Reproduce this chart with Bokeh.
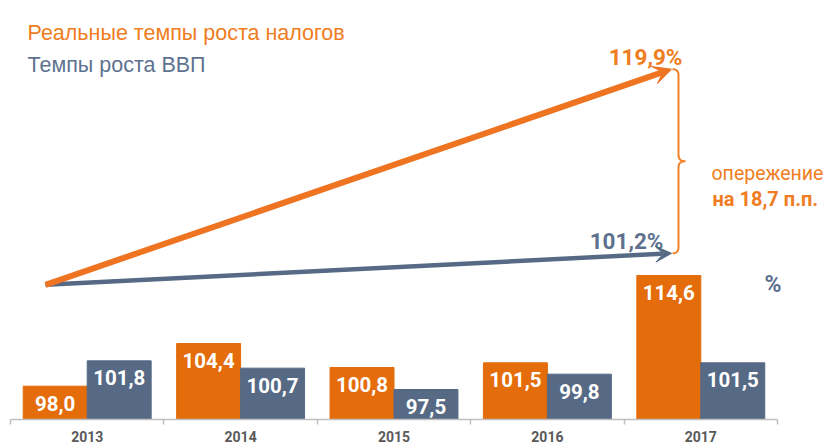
from bokeh.plotting import figure
from bokeh.models import (Range1d, FixedTicker, Arrow, VeeHead, Label,
                          ColumnDataSource)
from bokeh.transform import dodge
from bokeh.core.properties import value
from bokeh.embed import file_html
from bokeh.resources import INLINE

# ---- data ---------------------------------------------------------------
years = [2013, 2014, 2015, 2016, 2017]
tax_growth = [98.0, 104.4, 100.8, 101.5, 114.6]   # real tax revenue growth, %
gdp_growth = [101.8, 100.7, 97.5, 99.8, 101.5]    # GDP growth, %
tax_cumulative = 119.9                            # 2013-2017 cumulative, %
gdp_cumulative = 101.2
arrows_origin = 98.0                              # level the two arrows start from

title_tax = "Реальные темпы роста налогов"
title_gdp = "Темпы роста ВВП"
lead_word = "опережение"

# ---- style --------------------------------------------------------------
ORANGE = "#E46C0A"
SLATE = "#566A85"
ORANGE_TXT = "#F07D22"
SLATE_TXT = "#5E7290"
NARROW = "Roboto"
REGULAR = "Liberation Sans"

W, H = 832, 444
FRAME_H = 420          # plot frame height (figure height minus the year axis)
X_LEFT_PX = 10         # where the first category starts
CAT_PX = 153.4         # width of one year slot
BAR_W = 0.417          # bar width in year slots
BAR_PX_PER_UNIT = 6.684
AXIS_MIN = 93.0
GROWTH_PX_PER_UNIT = 9.87
ORIGIN_PX = 285        # screen row of the arrows' origin

def fmt(v):
    return f"{v:.1f}".replace(".", ",")

n = len(years)
x_start = -0.5 - X_LEFT_PX / CAT_PX
x_end = x_start + W / CAT_PX

p = figure(width=W, height=H, output_backend="svg", toolbar_location=None,
           x_range=Range1d(x_start, x_end),
           y_range=Range1d(AXIS_MIN, AXIS_MIN + FRAME_H / BAR_PX_PER_UNIT),
           y_axis_location=None, min_border=0, outline_line_color=None)
p.grid.visible = False

p.extra_x_ranges = {"px": Range1d(0, W)}
p.extra_y_ranges = {
    "px": Range1d(FRAME_H, 0),
    "growth": Range1d(arrows_origin - (FRAME_H - ORIGIN_PX) / GROWTH_PX_PER_UNIT,
                      arrows_origin + ORIGIN_PX / GROWTH_PX_PER_UNIT),
}

# ---- bars ---------------------------------------------------------------
src = ColumnDataSource(dict(
    x=list(range(n)),
    tax=tax_growth, gdp=gdp_growth,
    tax_lbl=[fmt(v) for v in tax_growth],
    gdp_lbl=[fmt(v) for v in gdp_growth],
))

off = BAR_W / 2
p.vbar(x=dodge("x", -off, range=p.x_range), top="tax", bottom=AXIS_MIN,
       width=BAR_W, source=src, fill_color=ORANGE, line_color=ORANGE)
p.vbar(x=dodge("x", off, range=p.x_range), top="gdp", bottom=AXIS_MIN,
       width=BAR_W, source=src, fill_color=SLATE, line_color=SLATE)

lbl_kw = dict(source=src, text_color="white", text_font=value(NARROW),
              text_font_style="bold", text_font_size="20.5px",
              text_align="center", text_baseline="middle", y_offset=17)
p.text(x=dodge("x", -off, range=p.x_range), y="tax", text="tax_lbl", **lbl_kw)
p.text(x=dodge("x", off, range=p.x_range), y="gdp", text="gdp_lbl", **lbl_kw)

# ---- year axis ------------------------------------------------------------
ax = p.xaxis[0]
ax.ticker = FixedTicker(ticks=list(range(n)),
                        minor_ticks=[i - 0.5 for i in range(n + 1)])
ax.major_label_overrides = {i: str(y) for i, y in enumerate(years)}
ax.bounds = (-0.5, n - 0.5)
ax.axis_line_color = "#BFBFBF"
ax.axis_line_width = 1.5
ax.major_tick_line_color = None
ax.major_tick_out = 0
ax.major_tick_in = 0
ax.minor_tick_line_color = "#BFBFBF"
ax.minor_tick_line_width = 1.5
ax.minor_tick_out = 5
ax.minor_tick_in = 0
ax.major_label_standoff = 6
ax.major_label_text_font = NARROW
ax.major_label_text_font_style = "bold"
ax.major_label_text_font_size = "14px"
ax.major_label_text_color = "#595959"

# ---- cumulative growth arrows ------------------------------------------
ARROW_X0, ARROW_X1 = 45, 671
for val, color, lw, head in ((gdp_cumulative, SLATE, 4.5, 16),
                             (tax_cumulative, "#EE7422", 6, 18)):
    p.add_layout(Arrow(x_start=ARROW_X0, y_start=arrows_origin,
                       x_end=ARROW_X1, y_end=val,
                       x_range_name="px", y_range_name="growth",
                       line_color=color, line_width=lw,
                       end=VeeHead(size=head, fill_color=color,
                                   line_color=color, line_width=1)))

p.text(x=[ARROW_X1], y=[tax_cumulative], text=[fmt(tax_cumulative) + "%"],
       x_range_name="px", y_range_name="growth", x_offset=11, y_offset=-12,
       text_align="right", text_baseline="alphabetic",
       text_font=value(NARROW), text_font_style="bold",
       text_font_size="22.5px", text_color=ORANGE_TXT)
p.text(x=[ARROW_X1], y=[gdp_cumulative], text=[fmt(gdp_cumulative) + "%"],
       x_range_name="px", y_range_name="growth", x_offset=-8, y_offset=-12,
       text_align="right", text_baseline="alphabetic",
       text_font=value(NARROW), text_font_style="bold",
       text_font_size="22.5px", text_color=SLATE_TXT)

# ---- curly brace between the two arrow tips -------------------------------
def quad(p0, c, p1, k=12):
    out_x, out_y = [], []
    for i in range(k + 1):
        t = i / k
        out_x.append((1 - t) ** 2 * p0[0] + 2 * (1 - t) * t * c[0] + t ** 2 * p1[0])
        out_y.append((1 - t) ** 2 * p0[1] + 2 * (1 - t) * t * c[1] + t ** 2 * p1[1])
    return out_x, out_y

top, bot = tax_cumulative, gdp_cumulative
mid = (top + bot) / 2
r = 6 / GROWTH_PX_PER_UNIT
bx0, bx1, bx2 = ARROW_X1 + 1, ARROW_X1 + 7, ARROW_X1 + 14
bxs, bys = [], []
for seg in (quad((bx0, top), (bx1, top), (bx1, top - r)),
            quad((bx1, mid + r), (bx1, mid), (bx2, mid)),
            quad((bx2, mid), (bx1, mid), (bx1, mid - r)),
            quad((bx1, bot + r), (bx1, bot), (bx0, bot))):
    bxs += seg[0]
    bys += seg[1]
p.line(bxs, bys, x_range_name="px", y_range_name="growth",
       line_color="#F08228", line_width=2)

lead = tax_cumulative - gdp_cumulative
p.text(x=[bx2], y=[mid], text=[lead_word], x_range_name="px",
       y_range_name="growth", x_offset=26, y_offset=12,
       text_baseline="alphabetic", text_font=value(NARROW),
       text_font_size="19.5px", text_color=ORANGE_TXT)
p.text(x=[bx2], y=[mid], text=[f"на {fmt(lead)} п.п."], x_range_name="px",
       y_range_name="growth", x_offset=27, y_offset=38,
       text_baseline="alphabetic", text_font=value(NARROW),
       text_font_style="bold", text_font_size="20px", text_color=ORANGE_TXT)

# ---- legend-style headings and unit -------------------------------------
p.add_layout(Label(x=27, y=33, text=title_tax, x_range_name="px",
                   y_range_name="px", text_font=REGULAR,
                   text_font_size="21.5px", text_color=ORANGE_TXT,
                   text_baseline="alphabetic"))
p.add_layout(Label(x=27, y=65, text=title_gdp, x_range_name="px",
                   y_range_name="px", text_font=REGULAR,
                   text_font_size="21.5px", text_color=SLATE_TXT,
                   text_baseline="alphabetic"))
p.add_layout(Label(x=781, y=285, text="%", x_range_name="px",
                   y_range_name="px", text_font=NARROW, text_font_style="bold",
                   text_font_size="23px", text_color=SLATE_TXT,
                   text_align="right", text_baseline="alphabetic"))

open("out.html", "w").write(file_html(p, INLINE))
